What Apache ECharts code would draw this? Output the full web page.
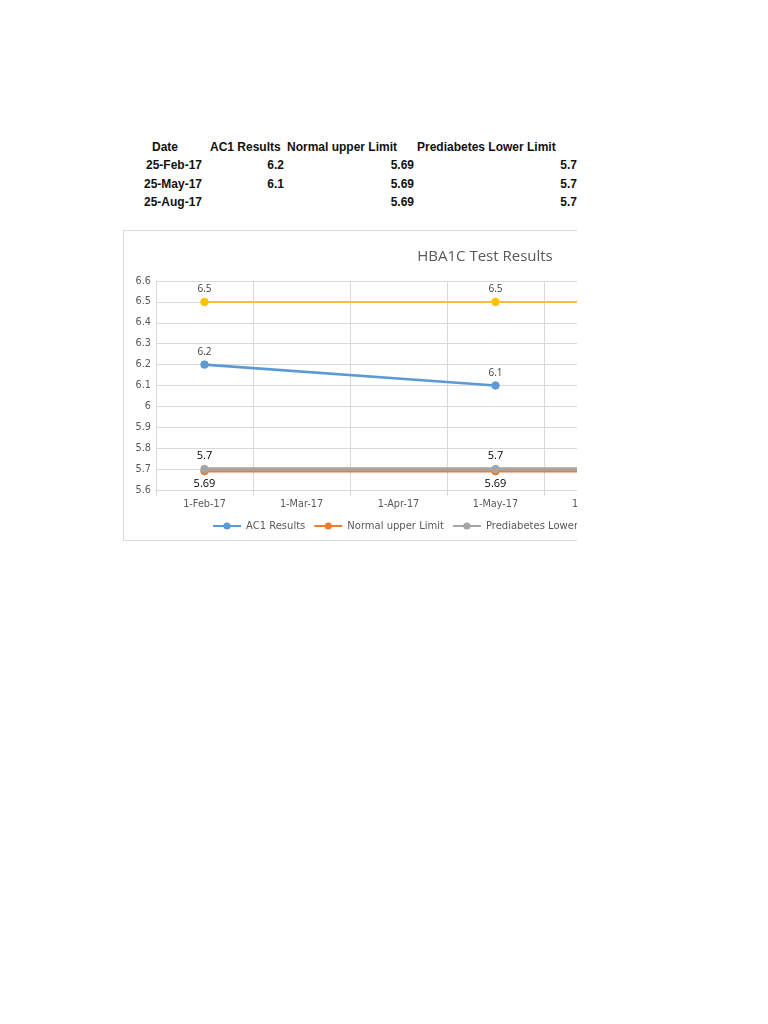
<!DOCTYPE html>
<html>
<head>
<meta charset="utf-8">
<script src="https://cdn.jsdelivr.net/npm/echarts@6/dist/echarts.min.js"></script>
<style>
  html, body { margin: 0; padding: 0; background: #fff; width: 768px; height: 1024px; overflow: hidden; }
  #clip { position: absolute; left: 0; top: 0; width: 577px; height: 1024px; overflow: hidden; }
  #chart { position: absolute; left: 123px; top: 230px; width: 724px; height: 311px; box-sizing: border-box; border: 1px solid #d9d9d9; background: #fff; }
  .cell { position: absolute; font-family: "Liberation Sans", Arial, sans-serif; font-weight: bold; font-size: 12px; line-height: 14px; color: #111; white-space: nowrap; }
  .r { transform: translateX(-100%); }
</style>
</head>
<body>
<div id="clip">
  <div id="table"></div>
  <div id="chart"></div>
</div>
<script>
// ---- Table data ----
const tableHeaders = ['Date', 'AC1 Results', 'Normal upper Limit', 'Prediabetes Lower Limit'];
const tableDates = ['25-Feb-17', '25-May-17', '25-Aug-17'];
const tableAC1 = ['6.2', '6.1', ''];
const tableNormal = ['5.69', '5.69', '5.69'];
const tablePrediab = ['5.7', '5.7', '5.7'];

// ---- Chart data ----
const categories = ['1-Feb-17', '1-Mar-17', '1-Apr-17', '1-May-17', '1-Jun-17', '1-Jul-17', '1-Aug-17'];
const ac1Values = [6.2, null, null, 6.1, null, null, null];
const normalUpper = [5.69, null, null, 5.69, null, null, 5.69];
const prediabLower = [5.7, null, null, 5.7, null, null, 5.7];
const diabetesLimit = [6.5, null, null, 6.5, null, null, 6.5];
const seriesNames = ['AC1 Results', 'Normal upper Limit', 'Prediabetes Lower Limit', 'Diabetes Lower Limit'];
const yTicks = { min: 5.6, max: 6.6, interval: 0.1 };

// ---- Table layout ----
const headerLeft = [152, 210, 287, 417];
const colRight = [202, 284, 414, 577];
const headerY = 140;
const rowY = [158, 177, 195];
const tbl = document.getElementById('table');
function addCell(text, x, y, right) {
  if (!text) return;
  const d = document.createElement('div');
  d.className = 'cell' + (right ? ' r' : '');
  d.style.left = x + 'px';
  d.style.top = y + 'px';
  d.textContent = text;
  tbl.appendChild(d);
}
tableHeaders.forEach((h, i) => addCell(h, headerLeft[i], headerY, false));
const cols = [tableDates, tableAC1, tableNormal, tablePrediab];
cols.forEach((col, c) => col.forEach((v, r) => addCell(v, colRight[c], rowY[r], true)));

// ---- Chart ----
const chart = echarts.init(document.getElementById('chart'));
const gridColor = '#d9d9d9';
const txtColor = '#595959';
const fontAxis = 'DejaVu Sans';
function lineSeries(name, data, color, width, labelPos, labelSize, labelColor) {
  return {
    name, type: 'line', data, connectNulls: true,
    symbol: 'circle', symbolSize: 7.5,
    lineStyle: { color, width },
    itemStyle: { color, borderColor: color },
    label: { show: true, position: labelPos, distance: 3, fontSize: labelSize, color: labelColor, fontFamily: 'Open Sans' },
    emphasis: { disabled: true },
    animation: false
  };
}
chart.setOption({
  animation: false,
  backgroundColor: '#fff',
  title: {
    text: 'HBA1C Test Results', left: 'center', top: 13,
    textStyle: { fontFamily: 'Open Sans', fontSize: 15, fontWeight: 'normal', color: txtColor }
  },
  legend: {
    left: 88, top: 290, padding: 0, itemWidth: 28, itemHeight: 9, itemGap: 8,
    data: seriesNames,
    textStyle: { fontFamily: fontAxis, fontSize: 10, color: txtColor }
  },
  grid: { left: 32, right: 11, top: 50, bottom: 50 },
  xAxis: {
    type: 'category', data: categories, boundaryGap: true,
    axisLine: { lineStyle: { color: gridColor } },
    axisTick: { show: true, length: 6, lineStyle: { color: gridColor } },
    axisLabel: { fontFamily: fontAxis, fontSize: 9.7, color: txtColor, margin: 9 },
    splitLine: { show: true, lineStyle: { color: gridColor } }
  },
  yAxis: {
    type: 'value', min: yTicks.min, max: yTicks.max, interval: yTicks.interval,
    axisLine: { show: true, lineStyle: { color: gridColor } },
    axisTick: { show: false },
    axisLabel: { fontFamily: fontAxis, fontSize: 9.7, color: txtColor, margin: 5 },
    splitLine: { show: true, lineStyle: { color: gridColor } }
  },
  series: [
    lineSeries(seriesNames[0], ac1Values, '#5B9BD5', 2.7, 'top', 10, '#404040'),
    lineSeries(seriesNames[1], normalUpper, '#ED7D31', 2.7, 'bottom', 11, '#000'),
    lineSeries(seriesNames[2], prediabLower, '#A5A5A5', 3.5, 'top', 11, '#000'),
    lineSeries(seriesNames[3], diabetesLimit, '#FFC000', 1.8, 'top', 10, '#404040')
  ]
});
</script>
</body>
</html>
